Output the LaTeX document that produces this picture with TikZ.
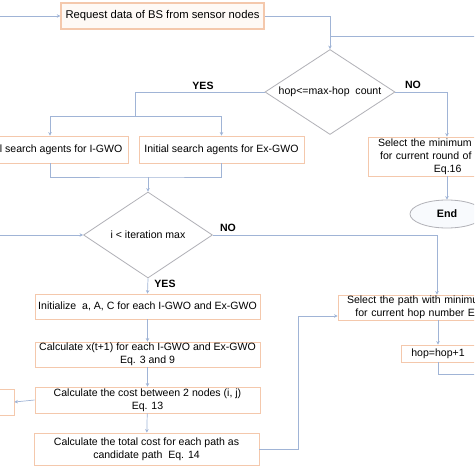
\documentclass[tikz,border=0pt]{standalone}
\usepackage{fontspec}
\setmainfont{Liberation Sans}
\usetikzlibrary{shapes.geometric,arrows.meta}
\definecolor{flowline}{RGB}{160,180,214}
\definecolor{boxedge}{RGB}{244,200,172}
\definecolor{boxfill}{RGB}{254,249,245}
\definecolor{decedge}{RGB}{178,178,184}
\definecolor{endfill}{RGB}{248,250,253}

\begin{document}
\begin{tikzpicture}[x=0.03cm,y=-0.03cm,font=\fontsize{9}{11}\selectfont,
  proc/.style={draw=boxedge,line width=0.7pt,fill=white,inner sep=1pt,align=center},
  dec/.style={draw=decedge,line width=0.7pt,fill=white,shape=diamond,inner sep=0pt,aspect=1.5},
  flow/.style={draw=flowline,line width=0.6pt},
  arr/.style={flow,-{Stealth[length=3pt,width=3pt]}},
  lbl/.style={font=\fontsize{9}{11}\selectfont\bfseries}]
  \clip (0,0) rectangle (474,474);
  \node[proc,fill=boxfill,line width=1.1pt,minimum width=203*0.03cm,minimum height=26*0.03cm,font=\fontsize{9.6}{11}\selectfont] (req) at (162.5,16) {Request data of BS from sensor nodes};
  \node[dec,minimum width=130*0.03cm,minimum height=85*0.03cm] (hopdec) at (330,92) {hop<=max-hop\ \ count};
  \node[proc,minimum width=156*0.03cm,minimum height=27*0.03cm] (initI) at (50,149.5) {Initial search agents for I-GWO};
  \node[proc,minimum width=165*0.03cm,minimum height=27*0.03cm] (initEx) at (221.5,149.5) {Initial search agents for Ex-GWO};
  \node[proc,align=left,text width=138*0.03cm,minimum width=158*0.03cm,minimum height=39*0.03cm] (selmin) at (447,156.5) {Select the minimum\\\hspace*{0.2em}for current round of\\\hspace*{5.3em}Eq.16};
  \node[draw=decedge,line width=0.7pt,fill=endfill,ellipse,minimum width=74*0.03cm,minimum height=28*0.03cm,font=\fontsize{9.2}{11}\selectfont\bfseries] (finish) at (447,214) {End};
  \node[dec,minimum width=129*0.03cm,minimum height=86*0.03cm] (iterdec) at (148,235) {i < iteration max};
  \node[proc,minimum width=225*0.03cm,minimum height=25*0.03cm] (init) at (147.5,306.5) {Initialize\ \ a, A, C for each I-GWO and Ex-GWO};
  \node[proc,minimum width=225*0.03cm,minimum height=25*0.03cm] (calcx) at (147.5,354.5) {Calculate\ x(t+1) for each I-GWO and Ex-GWO\\Eq. 3 and 9};
  \node[proc,minimum width=225*0.03cm,minimum height=26*0.03cm] (cost) at (147.5,400) {Calculate\ the cost between 2 nodes (i, j)\\Eq. 13};
  \node[proc,minimum width=225*0.03cm,minimum height=32*0.03cm] (total) at (146.5,449) {Calculate\ the total cost for each path as\\candidate path\ \ Eq. 14};
  \node[proc,minimum width=74*0.03cm,minimum height=26*0.03cm] (leftbox) at (-23,402) {};
  \node[proc,align=left,text width=180*0.03cm,minimum width=198*0.03cm,minimum height=25*0.03cm] (selpath) at (437,307.5) {Select the path with minimum\\\hspace*{0.8em}for current hop number Eq.};
  \node[proc,minimum width=74*0.03cm,minimum height=17*0.03cm] (hopinc) at (438,353.5) {hop=hop+1};
  \node[lbl] (yes1) at (203,86) {YES};
  \node[lbl] (no1) at (413,85) {NO};
  \node[lbl] (no2) at (228,228) {NO};
  \node[lbl] (yes2) at (165,284) {YES};
  \coordinate (inA) at (-5,16);
  \coordinate (inB) at (-5,235);
  \coordinate (loopB) at (490,374);
  \coordinate (loopT) at (490,36);
  \coordinate (splitA) at (135,116);
  \coordinate (joinA) at (148,177);
  \coordinate (back) at (298,316);
  \draw[arr] (inA) -- (req.west);
  \draw[arr] (req.east) -| (hopdec.north);
  \draw[flow] (hopinc.south) |- (loopB) -- (loopT) -- (hopdec.north |- loopT);
  \draw[flow] (hopdec.west) -| (splitA);
  \draw[flow] (initI.north |- splitA) -- (initEx.north |- splitA);
  \draw[arr] (initI.north |- splitA) -- (initI.north);
  \draw[arr] (initEx.north |- splitA) -- (initEx.north);
  \draw[arr] (hopdec.east) -| (selmin.north);
  \draw[arr] (selmin.south) -- (finish.north);
  \draw[flow] (initI.south) |- (joinA) -| (initEx.south);
  \draw[arr] (joinA) -- (iterdec.north);
  \draw[arr] (inB) -- (iterdec.west);
  \draw[arr] (iterdec.east) -| (selpath.north);
  \draw[arr] (iterdec.south) -- (init.north);
  \draw[arr] (init) -- (calcx);
  \draw[arr] (calcx) -- (cost);
  \draw[arr] (cost) -- (total);
  \draw[arr] (cost.west) -- (leftbox.east);
  \draw[arr] (total.east) -| (back) -- (selpath.west |- back);
  \draw[arr] (selpath.south -| hopinc.north) -- (hopinc.north);
\end{tikzpicture}
\end{document}
